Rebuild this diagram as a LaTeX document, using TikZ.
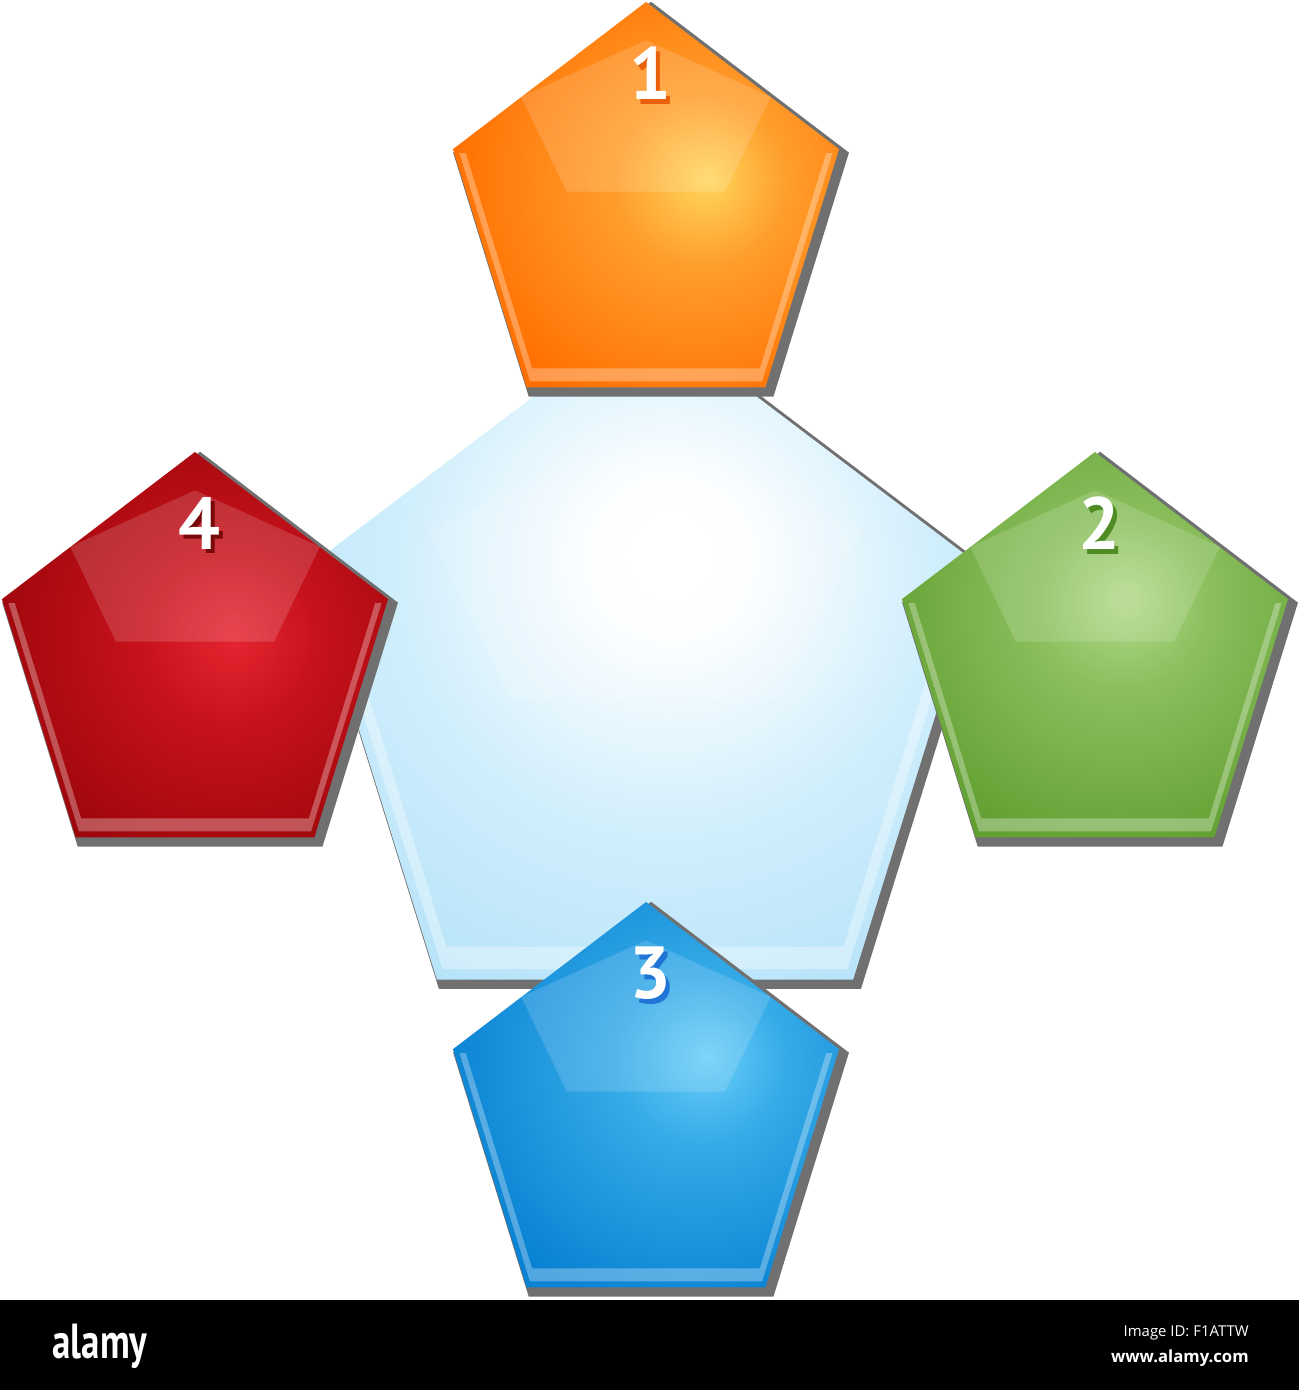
\documentclass[tikz,border=0pt]{standalone}
\usepackage{tikz}
\usepackage{fontspec}
\newfontfamily\numfont{PT Sans}
\newfontfamily\stampfont{Open Sans}
\usepackage{xcolor}
\definecolor{orangespot}{HTML}{FFD65C}
\definecolor{orangemid}{HTML}{FF9E2C}
\definecolor{orangeedge}{HTML}{FF6E00}
\definecolor{orangeshade}{HTML}{E8600A}
\definecolor{greenspot}{HTML}{B3D98B}
\definecolor{greenmid}{HTML}{8CC05E}
\definecolor{greenedge}{HTML}{62A032}
\definecolor{greenshade}{HTML}{4F8C24}
\definecolor{redspot}{HTML}{E42631}
\definecolor{redmid}{HTML}{C8121B}
\definecolor{rededge}{HTML}{950508}
\definecolor{redshade}{HTML}{7A0A0A}
\definecolor{bluespot}{HTML}{69CDF8}
\definecolor{bluemid}{HTML}{36ABE8}
\definecolor{blueedge}{HTML}{0982D3}
\definecolor{blueshade}{HTML}{1F74D6}
\definecolor{hubmid}{HTML}{D0EEFC}
\definecolor{hubedge}{HTML}{AFE0F8}
\definecolor{shadowgray}{HTML}{707070}

\pgfdeclareradialshading{orangeglow}{\pgfpoint{8bp}{2bp}}{color(0bp)=(orangespot); color(11bp)=(orangemid); color(32bp)=(orangeedge); color(100bp)=(orangeedge)}
\pgfdeclareradialshading{greenglow}{\pgfpoint{4bp}{6bp}}{color(0bp)=(greenspot); color(11bp)=(greenmid); color(32bp)=(greenedge); color(100bp)=(greenedge)}
\pgfdeclareradialshading{redglow}{\pgfpoint{5bp}{1bp}}{color(0bp)=(redspot); color(11bp)=(redmid); color(34bp)=(rededge); color(100bp)=(rededge)}
\pgfdeclareradialshading{blueglow}{\pgfpoint{8bp}{5bp}}{color(0bp)=(bluespot); color(11bp)=(bluemid); color(32bp)=(blueedge); color(100bp)=(blueedge)}
\pgfdeclareradialshading{hubglow}{\pgfpoint{2bp}{7bp}}{color(0bp)=(white); color(6bp)=(white!95!hubmid); color(20bp)=(hubmid); color(38bp)=(hubedge); color(100bp)=(hubedge)}

% unit pentagon, its top shine and its lower rim
\newcommand{\pentapath}{(0,1) -- (-0.951,0.309) -- (-0.588,-0.809) -- (0.588,-0.809) -- (0.951,0.309) -- cycle}
\newcommand{\glosspath}{(0,0.82) -- (-0.615,0.555) -- (-0.39,0.11) -- (0.39,0.11) -- (0.615,0.555) -- cycle}
\newcommand{\rimpath}{(-0.919,0.291) -- (-0.572,-0.781) -- (0.572,-0.781) -- (0.919,0.291) -- (0.888,0.291) -- (0.561,-0.720) -- (-0.561,-0.720) -- (-0.888,0.291) -- cycle}
% digit with its coloured drop shadow
\newcommand{\shadednum}[2]{\makebox[0pt][l]{\hspace{2.6pt}\raisebox{-2.8pt}{\textcolor{#1}{#2}}}#2}

\begin{document}
\begin{tikzpicture}[x=0.02cm,y=0.02cm,
    tileshadow/.style={fill=shadowgray},
    gloss/.style={fill=white,fill opacity=0.15},
    rim/.style={fill=white,fill opacity=0.3},
    digit/.style={text=white,inner sep=0pt,font=\numfont\bfseries\fontsize{42}{42}\selectfont},
    stamplogo/.style={text=white,inner sep=0pt,xscale=0.75,font=\numfont\bfseries\fontsize{28}{28}\selectfont},
    stampid/.style={text=white,inner sep=0pt,font=\stampfont\fontsize{8.5}{10}\selectfont},
    stampurl/.style={text=white,inner sep=0pt,font=\stampfont\bfseries\fontsize{9.5}{11}\selectfont}]
    \useasboundingbox (0,0) rectangle (1299,1390);

    % Central pentagon
    \begin{scope}[shift={(645,709)},xscale=354,yscale=369]
        \fill[tileshadow,shift={(0.014,-0.014)},scale=1.014] \pentapath;
        \shade[shading=hubglow] \pentapath;
        \fill[gloss,fill opacity=0.12] (0,0.675) -- (-0.613,0.41) -- (-0.38,-0.05) -- (0.38,-0.05) -- (0.613,0.41) -- cycle;
        \fill[rim,fill opacity=0.35] \rimpath;
    \end{scope}

    % Top pentagon (1)
    \begin{scope}[shift={(646,1175)},xscale=203,yscale=213]
        \fill[tileshadow,shift={(0.025,-0.024)},scale=1.025] \pentapath;
        \shade[shading=orangeglow] \pentapath;
        \fill[gloss] \glosspath;
        \fill[rim] \rimpath;
        \node[digit] (one) at (0.02,0.655) {\shadednum{orangeshade}{1}};
    \end{scope}

    % Right pentagon (2)
    \begin{scope}[shift={(1095,725)},xscale=203,yscale=213]
        \fill[tileshadow,shift={(0.025,-0.024)},scale=1.025] \pentapath;
        \shade[shading=greenglow] \pentapath;
        \fill[gloss] \glosspath;
        \fill[rim] \rimpath;
        \node[digit] (two) at (0.02,0.655) {\shadednum{greenshade}{2}};
    \end{scope}

    % Bottom pentagon (3)
    \begin{scope}[shift={(646,275)},xscale=203,yscale=213]
        \fill[tileshadow,shift={(0.025,-0.024)},scale=1.025] \pentapath;
        \shade[shading=blueglow] \pentapath;
        \fill[gloss] \glosspath;
        \fill[rim] \rimpath;
        \node[digit] (three) at (0.02,0.655) {\shadednum{blueshade}{3}};
    \end{scope}

    % Left pentagon (4)
    \begin{scope}[shift={(195,725)},xscale=203,yscale=213]
        \fill[tileshadow,shift={(0.025,-0.024)},scale=1.025] \pentapath;
        \shade[shading=redglow] \pentapath;
        \fill[gloss] \glosspath;
        \fill[rim] \rimpath;
        \node[digit] (four) at (0.02,0.655) {\shadednum{redshade}{4}};
    \end{scope}

    % Stock bar
    \fill[black] (0,0) rectangle (1299,90);
    \node[stamplogo] (logo) at (100,44) {alamy};
    \node[stampid,anchor=base east] (imageid) at (1249,53) {Image ID: F1ATTW};
    \node[stampurl,anchor=base east] (site) at (1249,28) {www.alamy.com};
\end{tikzpicture}
\end{document}
